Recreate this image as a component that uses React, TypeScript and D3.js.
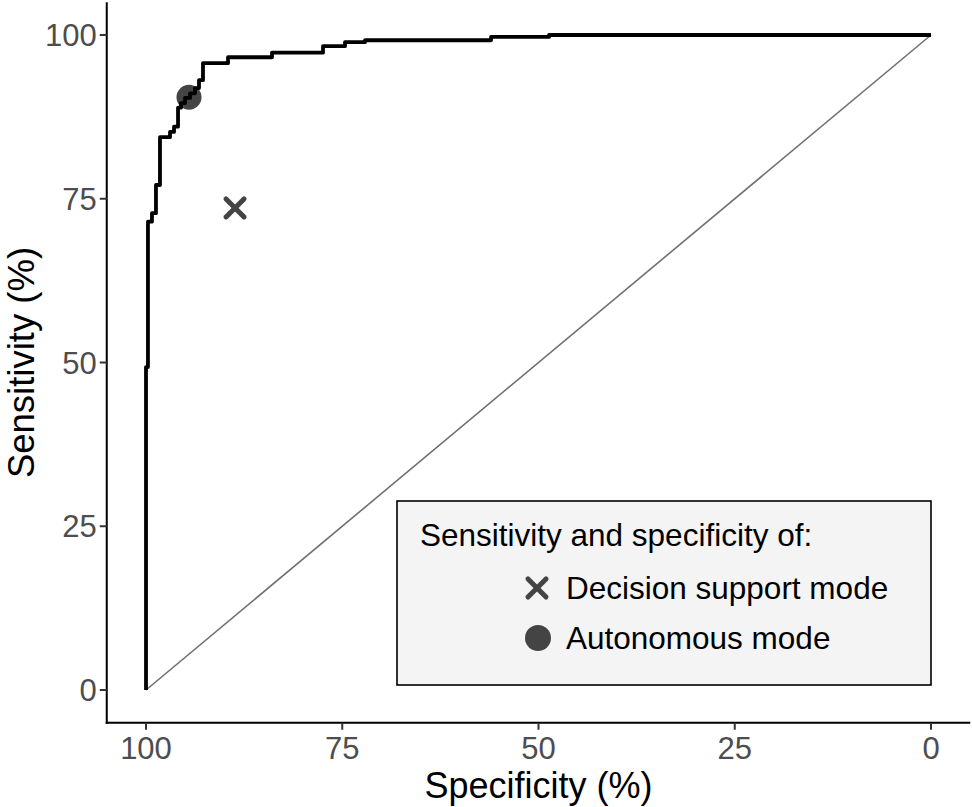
import React from "react";
import * as d3 from "d3";

const rocSpecificity = [100, 100, 99.75, 99.24, 98.73, 98.22, 96.94, 96.43, 95.92, 95.54, 95.03, 94.39, 93.76, 93.25, 92.74, 89.55, 83.95, 77.45, 74.65, 72.1, 56.05, 48.66, 0];
const rocSensitivity = [0, 49.3, 71.5, 72.8, 77.1, 84.4, 85.2, 86.0, 88.9, 89.6, 90.4, 91.1, 91.9, 93.1, 95.7, 96.6, 97.3, 98.3, 98.9, 99.2, 99.7, 100, 100];

const modeNames = ["Decision support mode", "Autonomous mode"];
const modeSpecificity = [88.66, 94.52];
const modeSensitivity = [73.6, 90.5];

const xTicks = [100, 75, 50, 25, 0];
const yTicks = [0, 25, 50, 75, 100];

const legendTitle = "Sensitivity and specificity of:";
const xTitle = "Specificity (%)";
const yTitle = "Sensitivity (%)";

const W = 972;
const H = 807;
const FONT = "'Liberation Sans', Arial, Helvetica, sans-serif";

export default function App() {
  const x = d3.scaleLinear().domain([100, 0]).range([146, 931]);
  const y = d3.scaleLinear().domain([0, 100]).range([690, 35]);
  const panelLeft = x(105);
  const panelRight = x(-5);
  const panelTop = y(105);
  const panelBottom = y(-5);

  const rocPts: [number, number][] = rocSpecificity.map((s, i) => [s, rocSensitivity[i]]);
  const line = d3
    .line<[number, number]>()
    .x((d) => x(d[0]))
    .y((d) => y(d[1]))
    .curve(d3.curveStepAfter);

  const markerColor = "#444444";
  const drawX = (cx: number, cy: number, key: string) => {
    const h = 9;
    return (
      <g key={key} stroke={markerColor} strokeWidth={5} strokeLinecap="round">
        <line x1={cx - h} y1={cy - h} x2={cx + h} y2={cy + h} />
        <line x1={cx - h} y1={cy + h} x2={cx + h} y2={cy - h} />
      </g>
    );
  };

  const legX = 397;
  const legY = 501;
  const legW = 534;
  const legH = 184;

  return (
    <svg
      width={W}
      height={H}
      style={{ position: "absolute", left: 0, top: 0, background: "#ffffff" }}
      fontFamily={FONT}
    >
      <rect x={0} y={0} width={W} height={H} fill="#ffffff" />
      {/* diagonal reference */}
      <line x1={x(100)} y1={y(0)} x2={x(0)} y2={y(100)} stroke="#707070" strokeWidth={1.6} />
      {/* autonomous mode point */}
      <circle cx={x(modeSpecificity[1])} cy={y(modeSensitivity[1])} r={12.5} fill={markerColor} />
      {/* ROC curve */}
      <path d={line(rocPts) || ""} fill="none" stroke="#000" strokeWidth={3.8} strokeLinejoin="round" />
      {/* decision support point */}
      {drawX(x(modeSpecificity[0]), y(modeSensitivity[0]), "dx")}

      {/* axes */}
      <line x1={panelLeft} y1={panelTop} x2={panelLeft} y2={panelBottom + 1} stroke="#000" strokeWidth={2} />
      <line x1={panelLeft - 1} y1={panelBottom} x2={panelRight} y2={panelBottom} stroke="#000" strokeWidth={2} />
      {yTicks.map((t) => (
        <g key={"y" + t}>
          <line x1={panelLeft - 7} x2={panelLeft} y1={y(t)} y2={y(t)} stroke="#333" strokeWidth={2} />
          <text x={panelLeft - 10} y={y(t)} dy="0.36em" textAnchor="end" fontSize={31} fill="#4d4d4d">
            {t}
          </text>
        </g>
      ))}
      {xTicks.map((t) => (
        <g key={"x" + t}>
          <line x1={x(t)} x2={x(t)} y1={panelBottom} y2={panelBottom + 7} stroke="#333" strokeWidth={2} />
          <text x={x(t)} y={panelBottom + 36} textAnchor="middle" fontSize={31} fill="#4d4d4d">
            {t}
          </text>
        </g>
      ))}
      <text x={(panelLeft + panelRight) / 2} y={798} textAnchor="middle" fontSize={36} fill="#000">
        {xTitle}
      </text>
      <text
        transform={`translate(${34},${(panelTop + panelBottom) / 2}) rotate(-90)`}
        textAnchor="middle"
        fontSize={36.5}
        fill="#000"
      >
        {yTitle}
      </text>

      {/* legend */}
      <rect x={legX} y={legY} width={legW} height={legH} fill="#f4f4f4" stroke="#000" strokeWidth={1.6} />
      <text x={420} y={546} fontSize={31.5} fill="#000">
        {legendTitle}
      </text>
      {drawX(537, 588, "lx")}
      <text x={566} y={599} fontSize={31.5} fill="#000">
        {modeNames[0]}
      </text>
      <circle cx={538} cy={638} r={13} fill={markerColor} />
      <text x={566} y={649} fontSize={31.5} fill="#000">
        {modeNames[1]}
      </text>
    </svg>
  );
}
